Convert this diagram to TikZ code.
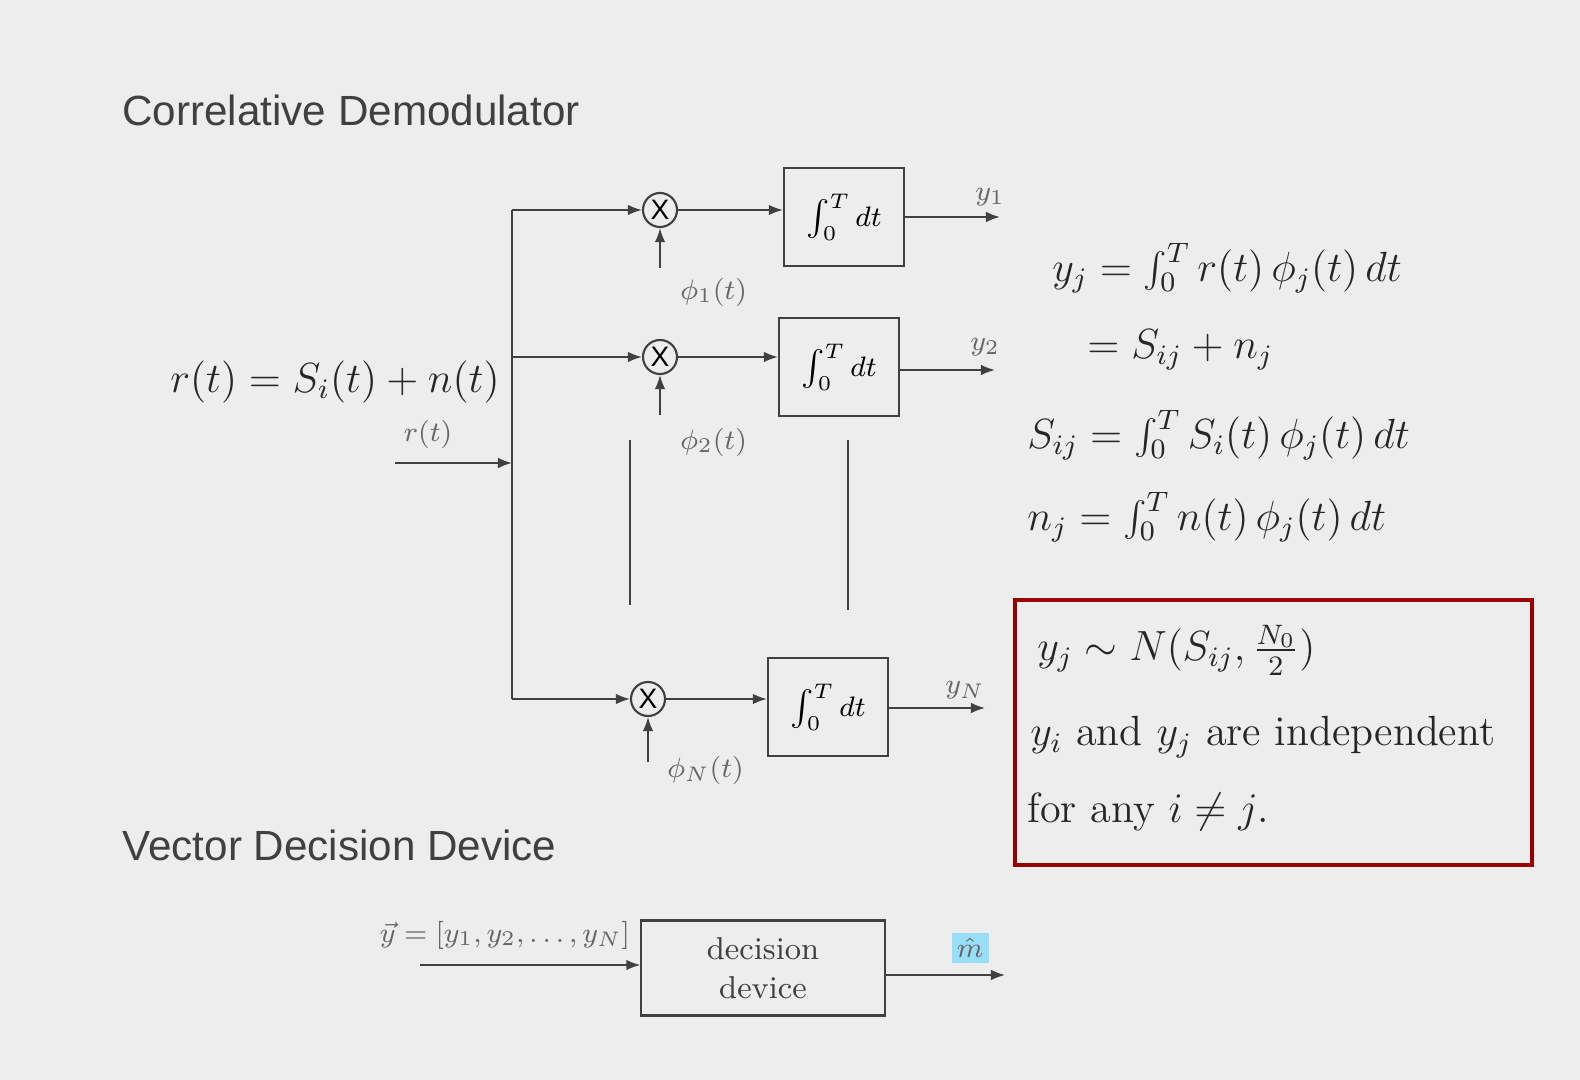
\documentclass[tikz,border=0pt]{standalone}
\usepackage{fontspec}
\setsansfont{Liberation Sans}
\usetikzlibrary{arrows.meta}
\begin{document}
\begin{tikzpicture}[x=0.01cm,y=-0.01cm,
  ln/.style={draw=black!75,line width=0.5pt},
  arr/.style={ln,-{Latex[length=4pt,width=3pt]}},
  mult/.style={circle,draw=black!75,line width=0.6pt,minimum size=0.34cm,inner sep=0pt,font=\sffamily\footnotesize},
  intbox/.style={draw=black!75,line width=0.6pt,minimum width=1.2cm,minimum height=0.98cm,font=\footnotesize},
  hand/.style={font=\large,text=black!85},
  lab/.style={font=\footnotesize,text=black!60}]
\fill[black!7] (0,0) rectangle (1580,1080);
\useasboundingbox (0,0) rectangle (1580,1080);
\node[anchor=west,font=\sffamily\large,text=black!75] (title) at (110,110) {Correlative Demodulator};
\coordinate (bt) at (512,210); \coordinate (bm) at (512,357); \coordinate (bb) at (512,699);
\draw[ln] (bt) -- (bb);
\node[mult] (m1) at (660,210) {X};
\node[mult] (m2) at (660,357) {X};
\node[mult] (m3) at (648,699) {X};
\draw[arr] (bt) -- (m1); \draw[arr] (bm) -- (m2); \draw[arr] (bb) -- (m3);
\coordinate (p1) at (660,268); \coordinate (p2) at (660,415); \coordinate (p3) at (648,762);
\draw[arr] (p1) -- (m1); \draw[arr] (p2) -- (m2); \draw[arr] (p3) -- (m3);
\node[lab,anchor=west] (l1) at (668,292) {$\phi_1(t)$};
\node[lab,anchor=west] (l2) at (668,442) {$\phi_2(t)$};
\node[lab,anchor=west] (l3) at (655,770) {$\phi_N(t)$};
\node[intbox] (i1) at (844,217) {$\int_0^T dt$};
\node[intbox] (i2) at (839,367) {$\int_0^T dt$};
\node[intbox] (i3) at (828,707) {$\int_0^T dt$};
\draw[arr] (m1) -- (i1.west|-m1); \draw[arr] (m2) -- (i2.west|-m2); \draw[arr] (m3) -- (i3.west|-m3);
\coordinate (o1) at (1000,217); \coordinate (o2) at (995,370); \coordinate (o3) at (985,708);
\draw[arr] (i1) -- (o1); \draw[arr] (i2.east|-o2) -- (o2); \draw[arr] (i3.east|-o3) -- (o3);
\node[lab] (y1) at (990,197) {$y_1$};
\node[lab] (y2) at (985,347) {$y_2$};
\node[lab] (yN) at (965,690) {$y_N$};
\draw[ln] (630,440) -- (630,605);
\draw[ln] (848,440) -- (848,610);
\coordinate (ri) at (395,463);
\draw[arr] (ri) -- (512,463);
\node[lab] (rt) at (428,434) {$r(t)$};
\node[hand] (rr) at (335,382) {$r(t)=S_i(t)+n(t)$};
\node[hand,anchor=west] (e1) at (1040,268) {$y_j=\int_0^T r(t)\,\phi_j(t)\,dt$};
\node[hand,anchor=west] (e2) at (1075,350) {$=S_{ij}+n_j$};
\node[hand,anchor=west] (e3) at (1015,435) {$S_{ij}=\int_0^T S_i(t)\,\phi_j(t)\,dt$};
\node[hand,anchor=west] (e4) at (1015,517) {$n_j=\int_0^T n(t)\,\phi_j(t)\,dt$};
\draw[red!60!black,line width=1.2pt] (1015,600) rectangle (1532,865);
\node[hand,anchor=west] (e5) at (1025,650) {$y_j\sim N(S_{ij},{\textstyle\frac{N_0}{2}})$};
\node[hand,anchor=west] (e6) at (1018,737) {$y_i$ and $y_j$ are independent};
\node[hand,anchor=west] (e7) at (1015,812) {for any $i\neq j$.};
\node[anchor=west,font=\sffamily\large,text=black!75] (vdd) at (110,845) {Vector Decision Device};
\node[lab] (yv) at (505,935) {$\vec{y}=[y_1,y_2,\ldots,y_N]$};
\node[draw=black!75,line width=0.6pt,minimum width=2.43cm,minimum height=0.95cm,align=center,text=black!75,font=\small] (dd) at (763,968) {decision\\device};
\coordinate (yi) at (420,965);
\draw[arr] (yi) -- (dd.west|-yi);
\coordinate (mo) at (1005,975);
\draw[arr] (dd.east|-mo) -- (mo);
\node[lab,fill=cyan!40,inner sep=1.5pt] (mh) at (970,948) {$\hat{m}$};
\end{tikzpicture}
\end{document}
